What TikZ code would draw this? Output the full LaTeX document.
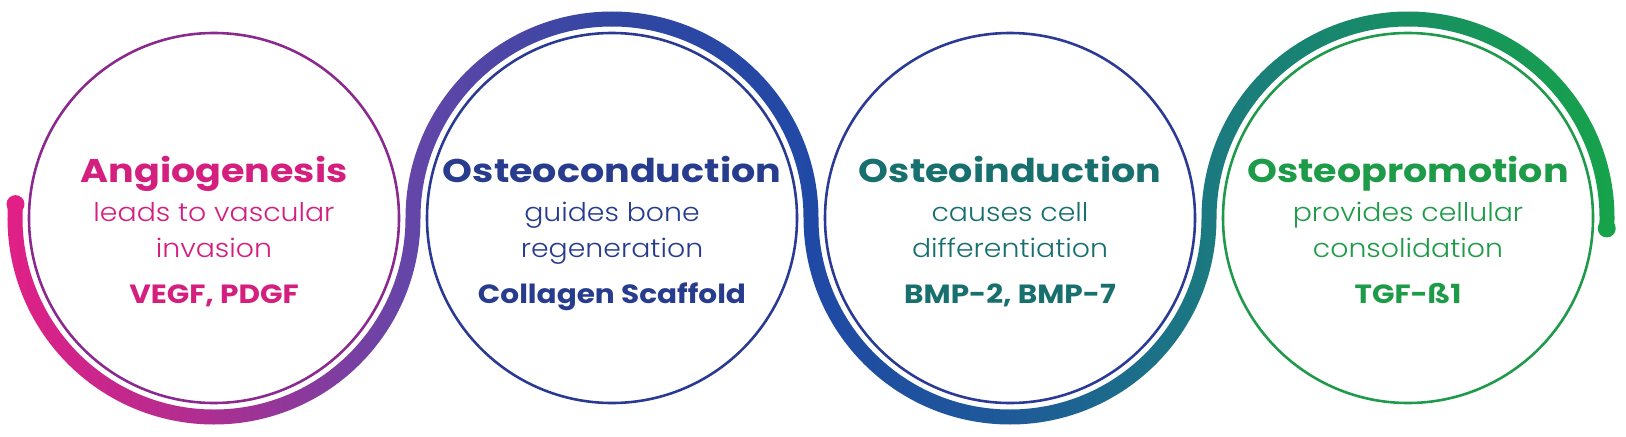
\documentclass[tikz,border=0pt]{standalone}
\usepackage{fontspec}
\newfontfamily\headfont{Poppins}[FakeStretch=1.16]
\newfontfamily\agentfont{Poppins}[FakeStretch=1.12]
\newfontfamily\descfont{Poppins Light}[FakeStretch=1.1]
\usetikzlibrary{positioning}

\definecolor{bandA}{HTML}{E21F86}
\definecolor{bandB}{HTML}{AE2E91}
\definecolor{bandC}{HTML}{6446A8}
\definecolor{bandD}{HTML}{3246A2}
\definecolor{bandE}{HTML}{2049A5}
\definecolor{bandF}{HTML}{1E5A98}
\definecolor{bandG}{HTML}{1B7A80}
\definecolor{bandH}{HTML}{178F62}
\definecolor{bandI}{HTML}{17A34A}
\definecolor{angioRing}{HTML}{8A2A8E}
\definecolor{conductRing}{HTML}{2A3A93}
\definecolor{induceRing}{HTML}{2A3A95}
\definecolor{promoteRing}{HTML}{1E9A4A}
\definecolor{angioPink}{HTML}{D41F7E}
\definecolor{conductBlue}{HTML}{283C8E}
\definecolor{induceTeal}{HTML}{176F6E}
\definecolor{promoteGreen}{HTML}{1E9B48}

\pgfdeclarehorizontalshading{bandshade}{100bp}{color(0bp)=(bandA); color(25bp)=(bandA);
  color(31.4bp)=(bandB); color(37.6bp)=(bandC); color(43.8bp)=(bandD); color(50bp)=(bandE);
  color(56.2bp)=(bandF); color(62.4bp)=(bandG); color(68.6bp)=(bandH); color(75bp)=(bandI);
  color(100bp)=(bandI)}

\begin{document}
\begin{tikzpicture}[x=0.03cm, y=0.03cm,
    ring/.style={circle, line width=2.2pt, minimum size=11.1cm, inner sep=0pt},
    headline/.style={anchor=base, font=\headfont\bfseries\fontsize{28}{32}\selectfont},
    blurb/.style={anchor=base, align=center, font=\descfont\fontsize{22}{29.9}\selectfont},
    agent/.style={anchor=base, font=\agentfont\bfseries\fontsize{22.5}{27}\selectfont}]
    \useasboundingbox (0,0) rectangle (1626,436);
    % Band
    \shade[shading=bandshade] (214,218) ++(176:206.5)
      arc[start angle=176, end angle=360, radius=206.5]
      arc[start angle=180, end angle=0, radius=191.5]
      arc[start angle=180, end angle=360, radius=206.5]
      arc[start angle=180, end angle=-3, radius=191.5]
      -- ++(-3:15)
      arc[start angle=-3, end angle=180, radius=206.5]
      arc[start angle=360, end angle=180, radius=191.5]
      arc[start angle=0, end angle=180, radius=206.5]
      arc[start angle=360, end angle=176, radius=191.5] -- cycle;
    \path (214,218) ++(176:199) coordinate (bandstart);
    \path (1408,218) ++(-3:199) coordinate (bandend);
    \fill[bandA] (bandstart) circle (9);
    \fill[bandI] (bandend) circle (9);

    % Circles
    \node[ring, draw=angioRing] (angio) at (214,218) {};
    \node[ring, draw=conductRing] (conduct) at (612,218) {};
    \node[ring, draw=induceRing] (induce) at (1010,218) {};
    \node[ring, draw=promoteRing] (promote) at (1408,218) {};

    % Texts
    \node[headline, text=angioPink] (angiohead) at (214,254) {Angiogenesis};
    \node[blurb, text=angioPink] (angioblurb) at (214,179) {leads to vascular\\invasion};
    \node[agent, text=angioPink] (angioagent) at (214,133) {VEGF, PDGF};

    \node[headline, text=conductBlue] (conducthead) at (612,254) {Osteoconduction};
    \node[blurb, text=conductBlue] (conductblurb) at (612,179) {guides bone\\regeneration};
    \node[agent, text=conductBlue] (conductagent) at (612,133) {Collagen Scaffold};

    \node[headline, text=induceTeal] (inducehead) at (1010,254) {Osteoinduction};
    \node[blurb, text=induceTeal] (induceblurb) at (1010,179) {causes cell\\differentiation};
    \node[agent, text=induceTeal] (induceagent) at (1010,133) {BMP-2, BMP-7};

    \node[headline, text=promoteGreen] (promotehead) at (1408,254) {Osteopromotion};
    \node[blurb, text=promoteGreen] (promoteblurb) at (1408,179) {provides cellular\\consolidation};
    \node[agent, text=promoteGreen] (promoteagent) at (1408,133) {TGF-ß1};
  \end{tikzpicture}
\end{document}
